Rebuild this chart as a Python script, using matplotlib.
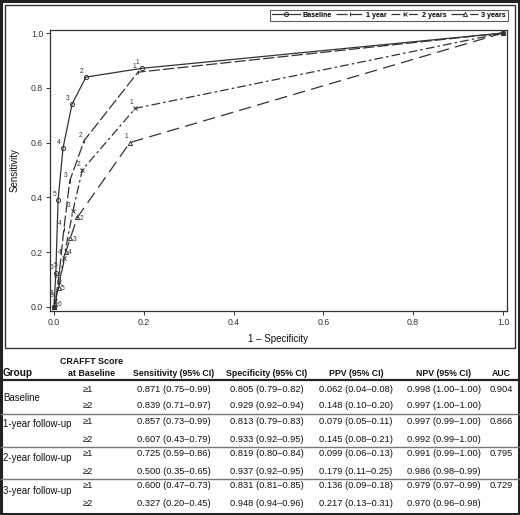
import numpy as np
import matplotlib.pyplot as plt
from matplotlib.patches import Rectangle

plt.rcParams['font.family'] = ['Liberation Sans', 'DejaVu Sans']

# ROC points (1 - specificity, sensitivity), CRAFFT cut-off 0..7
scores = ['', '1', '2', '3', '4', '5', '6', '']
base_fpr = [1.0, 0.195, 0.071, 0.040, 0.020, 0.009, 0.004, 0.0]
base_tpr = [1.0, 0.871, 0.839, 0.740, 0.580, 0.390, 0.125, 0.0]
y1_fpr = [1.0, 0.187, 0.067, 0.035, 0.022, 0.012, 0.004, 0.0]
y1_tpr = [1.0, 0.857, 0.607, 0.460, 0.285, 0.130, 0.030, 0.0]
y2_fpr = [1.0, 0.181, 0.063, 0.042, 0.022, 0.012, 0.003, 0.0]
y2_tpr = [1.0, 0.725, 0.500, 0.350, 0.180, 0.090, 0.020, 0.0]
y3_fpr = [1.0, 0.169, 0.052, 0.036, 0.026, 0.010, 0.002, 0.0]
y3_tpr = [1.0, 0.600, 0.327, 0.250, 0.200, 0.070, 0.010, 0.0]

legend_names = ['Baseline', '1 year', '2 years', '3 years']

# table
col_heads = ['Sensitivity (95% CI)', 'Specificity (95% CI)', 'PPV (95% CI)', 'NPV (95% CI)', 'AUC']
groups = ['Baseline', '1-year follow-up', '2-year follow-up', '3-year follow-up']
cutoffs = ['≥1', '≥2']
sens = ['0.871 (0.75–0.99)', '0.839 (0.71–0.97)', '0.857 (0.73–0.99)', '0.607 (0.43–0.79)',
        '0.725 (0.59–0.86)', '0.500 (0.35–0.65)', '0.600 (0.47–0.73)', '0.327 (0.20–0.45)']
spec = ['0.805 (0.79–0.82)', '0.929 (0.92–0.94)', '0.813 (0.79–0.83)', '0.933 (0.92–0.95)',
        '0.819 (0.80–0.84)', '0.937 (0.92–0.95)', '0.831 (0.81–0.85)', '0.948 (0.94–0.96)']
ppv = ['0.062 (0.04–0.08)', '0.148 (0.10–0.20)', '0.079 (0.05–0.11)', '0.145 (0.08–0.21)',
       '0.099 (0.06–0.13)', '0.179 (0.11–0.25)', '0.136 (0.09–0.18)', '0.217 (0.13–0.31)']
npv = ['0.998 (1.00–1.00)', '0.997 (1.00–1.00)', '0.997 (0.99–1.00)', '0.992 (0.99–1.00)',
       '0.991 (0.99–1.00)', '0.986 (0.98–0.99)', '0.979 (0.97–0.99)', '0.970 (0.96–0.98)']
auc = ['0.904', '0.866', '0.795', '0.729']

ink = '#333333'
txt = '#111111'
W, H = 520, 515
fig = plt.figure(figsize=(5.2, 5.15), dpi=100)

# background axes in pixel coordinates for frames and table
bg = fig.add_axes([0, 0, 1, 1])
bg.set_xlim(0, W)
bg.set_ylim(H, 0)
bg.axis('off')
bg.add_patch(Rectangle((1, 1), W - 2, H - 2, fill=False, lw=2.2, ec='#222222'))
bg.add_patch(Rectangle((5, 5), W - 10, 343, fill=False, lw=1.0, ec=ink))

# ROC plot
ax = fig.add_axes([50 / W, 1 - 311 / H, 457 / W, 281 / H])
series = [
    (base_fpr, base_tpr, '-', 'o', False),
    (y1_fpr, y1_tpr, (0, (9, 2.5)), '|', False),
    (y2_fpr, y2_tpr, (0, (7, 2.5, 2, 2.5)), 'x', False),
    (y3_fpr, y3_tpr, (0, (10, 5)), '^', True),
]
for (fx, ty, ls, mk, right), name in zip(series, legend_names):
    ax.plot(fx, ty, color=ink, lw=0.9, ls=ls, marker=mk, ms=3, mfc='none',
            mew=0.7, label=name)
    for k, (x, y, s) in enumerate(zip(fx, ty, scores)):
        if not s:
            continue
        if right and k > 1:
            ax.annotate(s, (x, y), xytext=(1.8, -0.5), textcoords='offset points',
                        ha='left', va='center', fontsize=4.8, color=ink)
        else:
            ax.annotate(s, (x, y), xytext=(-1.5, 1.5), textcoords='offset points',
                        ha='right', va='bottom', fontsize=4.8, color=ink)

ax.set_xlim(-0.009, 1.009)
ax.set_ylim(-0.015, 1.011)
ticks = [0.0, 0.2, 0.4, 0.6, 0.8, 1.0]
ax.set_xticks(ticks)
ax.set_yticks(ticks)
ax.set_xticklabels(['%.1f' % t for t in ticks])
ax.set_yticklabels(['%.1f' % t for t in ticks])
ax.tick_params(labelsize=6.3, length=3, width=0.7, color=ink, labelcolor=ink, pad=2)
for sp in ax.spines.values():
    sp.set_linewidth(0.9)
    sp.set_color(ink)
ax.set_xlabel('1 – Specificity', fontsize=7, color=txt, labelpad=5)
ax.set_ylabel('Sensitivity', fontsize=7, color=txt, labelpad=8)

leg = ax.legend(loc='lower right', bbox_to_anchor=(1.002, 1.032), ncol=4, fontsize=5.1,
                frameon=True, fancybox=False, edgecolor=ink, borderpad=0.3,
                handlelength=3.9, handletextpad=0.4, columnspacing=0.6, borderaxespad=0)
leg.get_frame().set_linewidth(0.8)
for t in leg.get_texts():
    t.set_fontweight('bold')

# table
hy1, hy2 = 362, 373
col_x = [174, 267, 356, 444, 501]
bg.text(3, hy2, 'Group', fontsize=7.2, fontweight='bold', va='center', color=txt)
bg.text(92, hy1, 'CRAFFT Score', fontsize=6.4, fontweight='bold', va='center', ha='center', color=txt)
bg.text(92, hy2, 'at Baseline', fontsize=6.4, fontweight='bold', va='center', ha='center', color=txt)
for cx, h in zip(col_x, col_heads):
    bg.text(cx, hy2, h, fontsize=6.3, fontweight='bold', va='center', ha='center', color=txt)
bg.plot([1, W - 1], [380, 380], color='#222222', lw=1.6)

row_y = [389, 406, 422, 439, 454, 471, 486, 503]
group_y = [398, 424, 458, 491]
vs = 6.65
for i in range(4):
    bg.text(3, group_y[i], groups[i], fontsize=6.9, va='center', color=txt)
    bg.text(col_x[4], row_y[2 * i], auc[i], fontsize=vs, va='center', ha='center', color=txt)
    if i > 0:
        sep = (row_y[2 * i - 1] + row_y[2 * i]) / 2
        bg.plot([1, W - 1], [sep, sep], color='#777777', lw=1.0)
for j in range(8):
    y = row_y[j]
    bg.text(83, y, cutoffs[j % 2], fontsize=vs, va='center', color=txt)
    bg.text(col_x[0], y, sens[j], fontsize=vs, va='center', ha='center', color=txt)
    bg.text(col_x[1], y, spec[j], fontsize=vs, va='center', ha='center', color=txt)
    bg.text(col_x[2], y, ppv[j], fontsize=vs, va='center', ha='center', color=txt)
    bg.text(col_x[3], y, npv[j], fontsize=vs, va='center', ha='center', color=txt)

fig.savefig('out.png', dpi=100)
